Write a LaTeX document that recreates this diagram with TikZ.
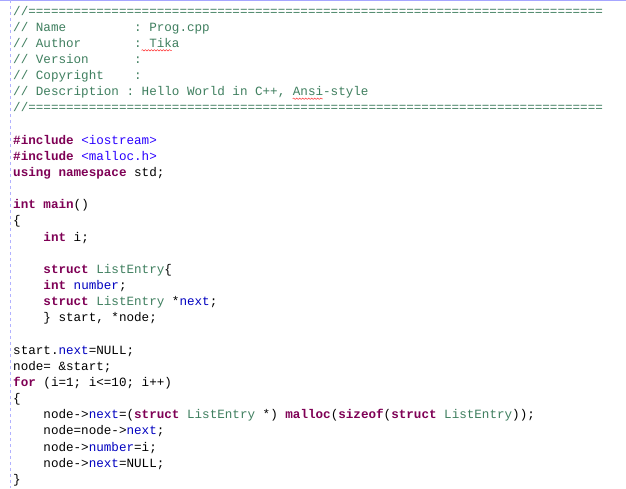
\documentclass[tikz,border=0pt]{standalone}
\usepackage{fontspec}
\setmonofont{Liberation Mono}
\usetikzlibrary{decorations.pathmorphing}
\definecolor{cmt}{HTML}{3F7F5F}
\definecolor{kw}{HTML}{7F0055}
\definecolor{str}{HTML}{2A00FF}
\definecolor{fld}{HTML}{0000C0}
\newcommand{\K}[1]{\textcolor{kw}{\textbf{#1}}}
\newcommand{\C}[1]{\textcolor{cmt}{#1}}
\newcommand{\B}[1]{\textcolor{fld}{#1}}
\newcommand{\G}[1]{\textcolor{cmt}{#1}}
\tikzset{codeline/.style={anchor=base west,inner sep=0pt,font=\ttfamily\fontsize{12.6}{14}\selectfont,text=black},
squig/.style={draw=red!80,line width=0.5pt,decorate,decoration={snake,amplitude=0.7pt,segment length=3pt}}}
\begin{document}
\begin{tikzpicture}[x=1pt,y=-1pt]
\useasboundingbox[fill=white] (0,0) rectangle (626,488);
\draw[blue!35,line width=1.2pt] (0,0.6) -- (626,0.6);
\draw[blue!30,dashed,line width=1pt] (10,0) -- (10,488);
\def\dy{16.15}
\foreach \t [count=\i] in {
{\C{//============================================================================}},
{\C{// Name\ \ \ \ \ \ \ \ \ : Prog.cpp}},
{\C{// Author\ \ \ \ \ \ \ : Tika}},
{\C{// Version\ \ \ \ \ \ :}},
{\C{// Copyright\ \ \ \ :}},
{\C{// Description : Hello World in C++, Ansi-style}},
{\C{//============================================================================}},
{},
{\K{\#include} \textcolor{str}{<iostream>}},
{\K{\#include} \textcolor{str}{<malloc.h>}},
{\K{using} \K{namespace} std;},
{},
{\K{int} \K{main}()},
{\{},
{\ \ \ \ \K{int} i;},
{},
{\ \ \ \ \K{struct} \G{ListEntry}\{},
{\ \ \ \ \K{int} \B{number};},
{\ \ \ \ \K{struct} \G{ListEntry} *\B{next};},
{\ \ \ \ \} start, *node;},
{},
{start.\B{next}=NULL;},
{node= \&start;},
{\K{for} (i=1; i<=10; i++)},
{\{},
{\ \ \ \ node->\B{next}=(\K{struct} \G{ListEntry} *) \K{malloc}(\K{sizeof}(\K{struct} \G{ListEntry}));},
{\ \ \ \ node=node->\B{next};},
{\ \ \ \ node->\B{number}=i;},
{\ \ \ \ node->\B{next}=NULL;},
{\}}}
{\node[codeline] (l\i) at (13,{15+(\i-1)*\dy}) {\t\strut};}
\coordinate (t1) at (13+17*7.56,{15+2*\dy+3});
\coordinate (t2) at (13+21*7.56,{15+2*\dy+3});
\draw[squig] (t1) -- (t2);
\coordinate (a1) at (13+37*7.56,{15+5*\dy+3});
\coordinate (a2) at (13+41*7.56,{15+5*\dy+3});
\draw[squig] (a1) -- (a2);
\end{tikzpicture}
\end{document}
